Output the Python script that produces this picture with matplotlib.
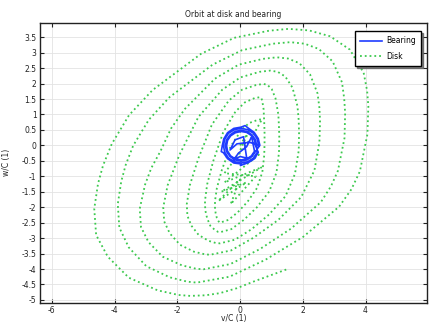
import matplotlib
matplotlib.use("Agg")
import matplotlib.pyplot as plt

# ---------------- data (v/C, w/C) ----------------
# Bearing orbit: several noisy revolutions around the origin plus inner scribbles
bearing_v = [0.59, 0.55, 0.43, 0.24, 0.03, -0.18, -0.37, -0.49, -0.53, -0.49, -0.37, -0.18, 0.03, 0.24, 0.43, 0.55,
             0.53, 0.49, 0.38, 0.22, 0.03, -0.16, -0.32, -0.43, -0.47, -0.43, -0.32, -0.16, 0.03, 0.22, 0.38, 0.49,
             0.63, 0.58, 0.45, 0.26, 0.16, 0.03, -0.20, -0.40, -0.52, -0.57, -0.60, -0.53, -0.40, -0.20, 0.03, 0.01, 0.26, 0.46, 0.58,
             0.49, 0.46, 0.36, 0.21, 0.03, -0.15, -0.30, -0.40, -0.43, -0.40, -0.30, -0.15, 0.03, 0.21, 0.36, 0.46,
             0.37, 0.21, -0.05, -0.21, 0.0, 0.21, 0.11, -0.16, -0.32, -0.10, 0.30, 0.55]
bearing_w = [-0.01, 0.20, 0.39, 0.51, 0.55, 0.51, 0.39, 0.20, -0.01, -0.22, -0.41, -0.53, -0.57, -0.53, -0.41, -0.22,
             -0.01, 0.18, 0.34, 0.45, 0.49, 0.45, 0.34, 0.18, -0.01, -0.20, -0.36, -0.47, -0.51, -0.47, -0.36, -0.20,
             0.00, 0.22, 0.42, 0.56, 0.64, 0.59, 0.55, 0.41, 0.21, -0.02, -0.20, -0.24, -0.43, -0.57, -0.60, -0.65, -0.56, -0.43, -0.23,
             0.00, 0.17, 0.32, 0.42, 0.45, 0.41, 0.31, 0.16, -0.01, -0.19, -0.34, -0.44, -0.47, -0.44, -0.34, -0.19,
             0.28, -0.04, -0.25, -0.47, -0.36, -0.41, 0.28, 0.18, -0.15, 0.05, 0.10, 0.02]

# Disk orbit: start transient, then outward spiral loop by loop
disk_start = [(0.00, 0.00), (0.30, 0.50), (-0.20, -0.60), (0.60, -0.30), (-0.50, -1.20), (0.70, -0.70),
              (-0.60, -1.50), (0.20, -1.20), (-0.70, -1.80), (0.00, -1.10), (-0.30, -1.90), (0.50, -1.00),
              (-0.50, -0.90), (0.40, 0.30)]
disk_loop1 = [(0.70, 0.85), (0.55, 0.82), (0.28, 0.72), (0.03, 0.48), (-0.31, -0.05), (-0.58, -0.79), (-0.74, -1.38),
              (-0.80, -1.80), (-0.80, -2.01), (-0.78, -2.19), (-0.74, -2.35), (-0.69, -2.45), (-0.66, -2.49),
              (-0.64, -2.50), (-0.37, -2.41), (-0.07, -2.16), (0.24, -1.82), (0.54, -1.38), (0.71, -0.86), (0.77, -0.32),
              (0.78, 0.10), (0.78, 0.39), (0.77, 0.73), (0.75, 1.17), (0.71, 1.42), (0.68, 1.53)]
disk_loop2 = [(0.64, 1.56), (0.46, 1.53), (0.15, 1.39), (-0.15, 1.09), (-0.54, 0.42), (-0.86, -0.52), (-1.05, -1.26),
              (-1.12, -1.80), (-1.11, -2.10), (-1.05, -2.36), (-0.95, -2.60), (-0.80, -2.74), (-0.70, -2.80),
              (-0.64, -2.81), (-0.28, -2.71), (0.12, -2.41), (0.53, -2.01), (0.93, -1.49), (1.16, -0.88), (1.24, -0.24),
              (1.25, 0.25), (1.24, 0.60), (1.22, 1.00), (1.13, 1.52), (1.01, 1.82), (0.87, 1.96)]
disk_loop3 = [(0.74, 1.99), (0.50, 1.95), (0.06, 1.80), (-0.36, 1.45), (-0.90, 0.67), (-1.33, -0.42), (-1.60, -1.28),
              (-1.70, -1.90), (-1.68, -2.28), (-1.55, -2.60), (-1.32, -2.90), (-1.00, -3.09), (-0.77, -3.16),
              (-0.64, -3.17), (-0.16, -3.05), (0.37, -2.71), (0.92, -2.24), (1.45, -1.64), (1.75, -0.92), (1.87, -0.17),
              (1.88, 0.40), (1.87, 0.80), (1.83, 1.27), (1.67, 1.87), (1.44, 2.23), (1.20, 2.38)]
disk_loop4 = [(0.96, 2.42), (0.62, 2.38), (0.01, 2.20), (-0.57, 1.80), (-1.33, 0.92), (-1.94, -0.32), (-2.31, -1.29),
              (-2.45, -2.00), (-2.42, -2.46), (-2.24, -2.85), (-1.91, -3.22), (-1.47, -3.44), (-1.14, -3.52),
              (-0.96, -3.54), (-0.29, -3.40), (0.44, -2.98), (1.22, -2.41), (1.95, -1.67), (2.37, -0.81), (2.53, 0.11),
              (2.55, 0.80), (2.53, 1.21), (2.47, 1.68), (2.23, 2.30), (1.89, 2.66), (1.53, 2.81)]
disk_loop5 = [(1.17, 2.85), (0.73, 2.80), (-0.05, 2.61), (-0.80, 2.16), (-1.76, 1.18), (-2.20, 0.55), (-2.54, -0.19),
              (-2.83, -0.73), (-3.03, -1.27),
              (-3.20, -2.05), (-3.16, -2.64), (-2.92, -3.13), (-2.47, -3.60), (-1.86, -3.88), (-1.41, -3.99),
              (-1.17, -4.01), (-0.31, -3.84), (0.64, -3.35), (1.63, -2.69), (2.58, -1.83), (2.90, -1.32), (3.12, -0.82),
              (3.33, 0.24),
              (3.35, 1.05), (3.32, 1.51), (3.25, 2.04), (2.95, 2.72), (2.51, 3.12), (2.06, 3.29)]
disk_loop6 = [(1.60, 3.34), (1.05, 3.29), (0.06, 3.08), (-0.88, 2.61), (-2.25, 1.56), (-2.91, 0.83), (-3.41, -0.01),
              (-3.65, -0.64), (-3.79, -1.17),
              (-3.90, -1.90), (-3.85, -2.66), (-3.55, -3.30), (-2.99, -3.91), (-2.24, -4.27), (-1.68, -4.41),
              (-1.38, -4.44), (-0.34, -4.25), (0.81, -3.70), (2.01, -2.96), (3.16, -1.98), (3.55, -1.42), (3.82, -0.84),
              (4.06, 0.36),
              (4.09, 1.27), (4.05, 1.77), (3.94, 2.35), (3.50, 3.10), (2.87, 3.53), (2.20, 3.72)]
disk_loop7 = [(1.54, 3.77), (0.92, 3.71), (-0.19, 3.48), (-1.25, 2.96), (-2.79, 1.79), (-3.54, 0.98), (-4.09, 0.05),
              (-4.37, -0.65), (-4.53, -1.24),
              (-4.65, -2.05), (-4.59, -2.90), (-4.22, -3.60), (-3.55, -4.28), (-2.63, -4.69), (-1.96, -4.84),
              (-1.59, -4.87), (-1.10, -4.85), (-0.64, -4.78), (-0.10, -4.62), (0.42, -4.41), (0.95, -4.21), (1.49, -4.01)]

series_labels = ["Bearing", "Disk"]
title_text = "Orbit at disk and bearing"
x_label = "v/C (1)"
y_label = "w/C (1)"
x_ticks = [-6, -4, -2, 0, 2, 4]
x_tick_labels = ["-6", "-4", "-2", "0", "2", "4"]
y_ticks = [-5, -4.5, -4, -3.5, -3, -2.5, -2, -1.5, -1, -0.5, 0, 0.5, 1, 1.5, 2, 2.5, 3, 3.5]
y_tick_labels = ["-5", "-4.5", "-4", "-3.5", "-3", "-2.5", "-2", "-1.5", "-1", "-0.5", "0",
                 "0.5", "1", "1.5", "2", "2.5", "3", "3.5"]

# ---------------- plot ----------------
disk_pts = disk_start + disk_loop1 + disk_loop2 + disk_loop3 + disk_loop4 + disk_loop5 + disk_loop6 + disk_loop7
disk_v = [p[0] for p in disk_pts]
disk_w = [p[1] for p in disk_pts]

W, H = 435, 326
fig = plt.figure(figsize=(W / 100, H / 100), dpi=100)
ax = fig.add_axes([40 / W, 1 - 302.7 / H, 387 / W, 279.7 / H])

ax.plot(bearing_v, bearing_w, color="#1f3cff", lw=1.2, solid_joinstyle="round", zorder=4, label=series_labels[0])
ax.plot(disk_v, disk_w, color="#3cc94e", lw=1.3, ls=":", zorder=3, label=series_labels[1])

ax.set_xlim(-6.38, 5.96)
ax.set_ylim(-5.09, 3.96)
ax.set_xticks(x_ticks)
ax.set_xticklabels(x_tick_labels)
ax.set_yticks(y_ticks)
ax.set_yticklabels(y_tick_labels)
ax.tick_params(direction="in", length=3, width=0.8, top=True, right=True,
               labelsize=5.5, pad=2.5, colors="#222222", labelcolor="#222222")
ax.grid(True, color="#e3e3e3", lw=0.6)
ax.set_axisbelow(True)
for s in ax.spines.values():
    s.set_color("#222222")
    s.set_linewidth(1.0)

ax.set_title(title_text, fontsize=5.5, pad=4.5, color="#222222")
ax.set_xlabel(x_label, fontsize=5.5, color="#222222")
ax.set_ylabel(y_label, fontsize=5.5, color="#222222")
ax.xaxis.set_label_coords(0.5, -0.040)
ax.yaxis.set_label_coords(-0.076, 0.5)

leg = ax.legend(loc="upper right", bbox_to_anchor=(0.985, 0.972), borderaxespad=0, fontsize=5.5,
                frameon=True, fancybox=False, edgecolor="black", framealpha=1,
                shadow={"ox": 1.5, "oy": -1.5, "facecolor": "#555555", "alpha": 0.7},
                handlelength=2.9, handletextpad=0.5, borderpad=0.7, labelspacing=0.9)
leg.get_frame().set_linewidth(1.0)

fig.savefig("out.png", dpi=100)
